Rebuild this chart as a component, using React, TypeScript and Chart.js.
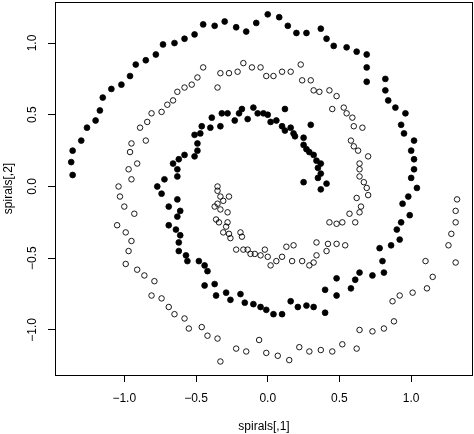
import React, { useEffect, useRef } from "react";
import { Chart, registerables } from "chart.js";

Chart.register(...registerables);

// class 1 (filled points)
const filledX = [
  -1.37, -1.36, -1.36, -1.30, -1.26, -1.20, -1.17, -1.15, -1.09, -1.02,
  -0.96, -0.92, -0.85, -0.78, -0.73, -0.65, -0.58, -0.51, -0.45, -0.37,
  -0.30, -0.22, -0.15, -0.08, 0.00, 0.08, 0.14, 0.20, 0.27, 0.37,
  0.41, 0.46, 0.55, 0.62, 0.69, 0.69, 0.69, 0.82, 0.82, 0.84,
  0.89, 0.96, 0.93, 0.95, 1.02, 1.00, 1.02, 1.02, 1.00, 1.04,
  0.98, 0.94, 0.99, 0.93, 0.90, 0.92, 0.86, 0.78, 0.80, 0.81,
  0.73, 0.64, 0.61, 0.58, 0.48, 0.48, 0.40, 0.40, 0.32, 0.27,
  0.21, 0.16, 0.10, 0.04, -0.01, -0.05, -0.10, -0.16, -0.19, -0.26,
  -0.29, -0.36, -0.37, -0.44, -0.42, -0.44, -0.48, -0.56, -0.57, -0.62,
  -0.62, -0.61, -0.64, -0.69, -0.63, -0.61, -0.69, -0.63, -0.74, -0.77,
  -0.72, -0.63, -0.63, -0.66, -0.62, -0.58, -0.51, -0.49, -0.49, -0.51,
  -0.47, -0.46, -0.40, -0.33, -0.39, -0.32, -0.28, -0.23, -0.20, -0.18,
  -0.14, -0.10, -0.07, -0.03, 0.00, 0.02, 0.06, 0.10, 0.12, 0.12,
  0.16, 0.18, 0.19, 0.25, 0.25, 0.27, 0.29, 0.30, 0.32, 0.34,
  0.37, 0.35, 0.37, 0.35, 0.25, 0.37, 0.41,
];
const filledY = [
  0.17, 0.08, 0.25, 0.32, 0.41, 0.46, 0.53, 0.62, 0.68, 0.71,
  0.77, 0.85, 0.88, 0.92, 0.99, 1.00, 1.03, 1.06, 1.13, 1.12,
  1.15, 1.11, 1.08, 1.14, 1.20, 1.18, 1.12, 1.07, 1.07, 1.10,
  1.03, 0.98, 0.97, 0.94, 0.92, 0.83, 0.73, 0.75, 0.67, 0.60,
  0.55, 0.51, 0.43, 0.37, 0.32, 0.25, 0.19, 0.12, 0.06, -0.01,
  -0.07, -0.12, -0.20, -0.25, -0.30, -0.37, -0.41, -0.43, -0.52, -0.60,
  -0.62, -0.60, -0.65, -0.71, -0.64, -0.76, -0.72, -0.88, -0.84, -0.83,
  -0.84, -0.80, -0.89, -0.89, -0.86, -0.84, -0.82, -0.81, -0.75, -0.79,
  -0.74, -0.76, -0.68, -0.69, -0.59, -0.55, -0.52, -0.52, -0.48, -0.45,
  -0.39, -0.34, -0.30, -0.27, -0.21, -0.17, -0.14, -0.09, -0.05, 0.00,
  0.05, 0.07, 0.12, 0.16, 0.19, 0.22, 0.21, 0.25, 0.30, 0.36,
  0.37, 0.42, 0.41, 0.42, 0.48, 0.51, 0.51, 0.46, 0.51, 0.54,
  0.47, 0.55, 0.51, 0.51, 0.50, 0.45, 0.46, 0.42, 0.54, 0.39,
  0.41, 0.37, 0.35, 0.34, 0.29, 0.26, 0.24, 0.43, 0.22, 0.18,
  0.16, 0.13, 0.09, 0.06, 0.03, -0.02, 0.02,
];

// class 2 (open points)
const openX = [
  1.32, 1.31, 1.31, 1.28, 1.26, 1.31, 1.10, 1.15, 1.11, 1.01,
  0.92, 0.87, 0.88, 0.81, 0.73, 0.64, 0.62, 0.52, 0.45, 0.37,
  0.29, 0.22, 0.15, 0.07, -0.01, -0.06, -0.15, -0.22, -0.33, -0.35,
  -0.42, -0.46, -0.55, -0.58, -0.65, -0.69, -0.74, -0.81, -0.79, -0.86,
  -0.91, -0.99, -0.97, -0.95, -0.99, -1.05, -0.93, -1.00, -1.03, -1.04,
  -0.95, -0.97, -0.91, -0.96, -0.95, -0.85, -0.89, -0.84, -0.81, -0.74,
  -0.70, -0.66, -0.63, -0.58, -0.53, -0.49, -0.45, -0.35, -0.33, -0.27,
  -0.21, -0.17, -0.11, -0.05, -0.01, 0.04, 0.10, 0.16, 0.23, 0.24,
  0.30, 0.32, 0.36, 0.43, 0.48, 0.45, 0.53, 0.55, 0.59, 0.60,
  0.66, 0.58, 0.60, 0.63, 0.70, 0.64, 0.64, 0.64, 0.67, 0.69,
  0.70, 0.62, 0.65, 0.64, 0.57, 0.61, 0.52, 0.48, 0.43, 0.42,
  0.48, 0.54, 0.41, -0.35, -0.35, -0.33, -0.27, -0.31, -0.35, -0.37,
  -0.33, -0.28, -0.36, -0.34, -0.28, -0.29, -0.31, -0.27, -0.26, -0.19,
  -0.18, -0.22, -0.17, -0.14, -0.12, -0.09, -0.05, -0.02, 0.00, 0.02,
  0.06, 0.10, 0.13, 0.17, 0.18, 0.24, 0.29, 0.32, 0.34, 0.34,
];
const openY = [
  -0.09, -0.17, -0.25, -0.33, -0.41, -0.53, -0.52, -0.63, -0.71, -0.74,
  -0.76, -0.80, -0.94, -0.99, -1.01, -1.00, -1.13, -1.10, -1.15, -1.14,
  -1.15, -1.12, -1.21, -1.18, -1.16, -1.07, -1.15, -1.13, -1.22, -1.06,
  -1.04, -0.98, -0.99, -0.92, -0.89, -0.84, -0.78, -0.76, -0.66, -0.62,
  -0.58, -0.54, -0.45, -0.38, -0.32, -0.27, -0.19, -0.14, -0.07, 0.00,
  0.05, 0.12, 0.16, 0.24, 0.30, 0.32, 0.41, 0.45, 0.51, 0.52,
  0.57, 0.60, 0.66, 0.69, 0.71, 0.76, 0.83, 0.69, 0.79, 0.79,
  0.80, 0.86, 0.83, 0.83, 0.77, 0.77, 0.80, 0.80, 0.85, 0.74,
  0.74, 0.67, 0.66, 0.67, 0.63, 0.54, 0.55, 0.51, 0.48, 0.42,
  0.41, 0.32, 0.28, 0.25, 0.21, 0.16, 0.12, 0.07, 0.03, -0.01,
  -0.06, -0.08, -0.14, -0.18, -0.19, -0.25, -0.25, -0.26, -0.25, -0.40,
  -0.40, -0.41, -0.45, 0.00, -0.03, -0.07, -0.07, -0.10, -0.12, -0.14,
  -0.16, -0.18, -0.23, -0.25, -0.25, -0.28, -0.32, -0.33, -0.36, -0.32,
  -0.35, -0.44, -0.44, -0.44, -0.47, -0.47, -0.48, -0.44, -0.49, -0.55,
  -0.52, -0.49, -0.42, -0.52, -0.41, -0.52, -0.55, -0.53, -0.48, -0.39,
];

const xTicks = [-1.0, -0.5, 0.0, 0.5, 1.0];
const yTicks = [-1.0, -0.5, 0.0, 0.5, 1.0];
const xRange = [-1.483, 1.431];
const yRange = [-1.314, 1.286];
const xTitle = "spirals[,1]";
const yTitle = "spirals[,2]";

const FONT = "'Liberation Sans', Arial, Helvetica, sans-serif";

const fmt = (v: number | string) =>
  Number(v).toFixed(1).replace("-", "\u2212");

const boxPlugin = {
  id: "rbox",
  afterDraw(chart: any) {
    const { ctx, chartArea } = chart;
    ctx.save();
    ctx.strokeStyle = "#000";
    ctx.lineWidth = 1;
    ctx.strokeRect(
      Math.round(chartArea.left) + 0.5,
      Math.round(chartArea.top) + 0.5,
      Math.round(chartArea.right - chartArea.left) - 1,
      Math.round(chartArea.bottom - chartArea.top)
    );
    ctx.restore();
  },
};

export default function App() {
  const ref = useRef<HTMLCanvasElement | null>(null);

  useEffect(() => {
    document.body.style.margin = "0";
    const canvas = ref.current;
    if (!canvas) return;
    const filled = filledX.map((x, i) => ({ x, y: filledY[i] }));
    const open = openX.map((x, i) => ({ x, y: openY[i] }));

    const chart = new Chart(canvas, {
      type: "scatter",
      data: {
        datasets: [
          {
            label: "1",
            data: filled,
            pointStyle: "circle",
            pointRadius: 2.9,
            pointBorderWidth: 0.8,
            pointBackgroundColor: "#000",
            pointBorderColor: "#000",
            clip: false,
          },
          {
            label: "2",
            data: open,
            pointStyle: "circle",
            pointRadius: 2.75,
            pointBorderWidth: 0.9,
            pointBackgroundColor: "rgba(0,0,0,0)",
            pointBorderColor: "#000",
            clip: false,
          },
        ],
      },
      options: {
        animation: false,
        responsive: false,
        devicePixelRatio: 1,
        layout: {
          autoPadding: false,
          padding: { top: 2, right: 1, left: 0, bottom: 0 },
        },
        plugins: {
          legend: { display: false },
          tooltip: { enabled: false },
        },
        scales: {
          x: {
            type: "linear",
            position: "bottom",
            min: xRange[0],
            max: xRange[1],
            afterBuildTicks: (s: any) => {
              s.ticks = xTicks.map((v) => ({ value: v }));
            },
            afterFit: (s: any) => {
              s.height = 59;
              s.paddingLeft = 0;
              s.paddingRight = 0;
            },
            grid: {
              drawOnChartArea: false,
              drawTicks: true,
              tickLength: 7,
              color: "#000",
              lineWidth: 1,
            },
            border: { display: false },
            ticks: {
              padding: 9,
              color: "#000",
              font: { family: FONT, size: 12 },
              maxRotation: 0,
              minRotation: 0,
              autoSkip: false,
              callback: (v: any) => fmt(v),
            },
            title: {
              display: true,
              text: xTitle,
              color: "#000",
              font: { family: FONT, size: 12 },
              padding: { top: 0, bottom: 0 },
            },
          },
          y: {
            type: "linear",
            position: "left",
            min: yRange[0],
            max: yRange[1],
            afterBuildTicks: (s: any) => {
              s.ticks = yTicks.map((v) => ({ value: v }));
            },
            afterFit: (s: any) => {
              s.width = 55;
              s.paddingTop = 0;
              s.paddingBottom = 0;
            },
            grid: {
              drawOnChartArea: false,
              drawTicks: true,
              tickLength: 7,
              color: "#000",
              lineWidth: 1,
            },
            border: { display: false },
            ticks: {
              padding: 3,
              color: "#000",
              font: { family: FONT, size: 12 },
              minRotation: 90,
              maxRotation: 90,
              crossAlign: "center",
              autoSkip: false,
              callback: (v: any) => fmt(v),
            },
            title: {
              display: true,
              text: yTitle,
              color: "#000",
              font: { family: FONT, size: 12 },
              padding: { top: 1, bottom: 0 },
            },
          },
        },
      },
      plugins: [boxPlugin],
    } as any);

    return () => {
      chart.destroy();
    };
  }, []);

  return (
    <div style={{ width: 474, height: 434 }}>
      <canvas ref={ref} width={474} height={434} style={{ display: "block" }} />
    </div>
  );
}
